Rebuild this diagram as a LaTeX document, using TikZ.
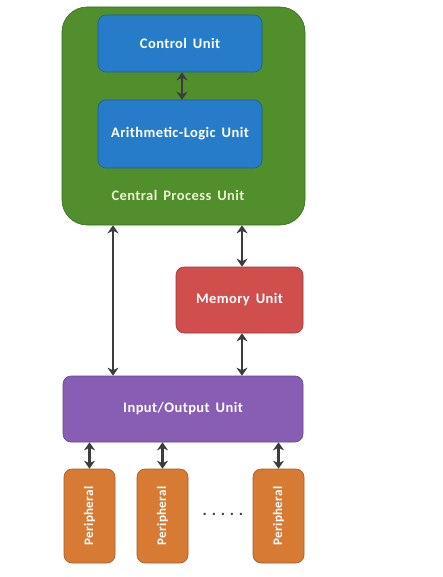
\documentclass[tikz,border=0pt]{standalone}
\usepackage{fontspec}
\setmainfont{Carlito}
\usetikzlibrary{arrows.meta}
\definecolor{cpugreen}{RGB}{80,143,44}
\definecolor{unitblue}{RGB}{38,124,200}
\definecolor{memred}{RGB}{208,78,76}
\definecolor{iopurple}{RGB}{136,94,180}
\definecolor{periorange}{RGB}{214,122,52}
\definecolor{arrowgray}{RGB}{60,60,60}
\definecolor{cream}{RGB}{238,240,210}
\newfontfamily\labelfont[LetterSpace=3,WordSpace=1.6]{Carlito}
\newfontfamily\dotfont[LetterSpace=30]{Carlito}
\tikzset{
  unitbox/.style={rectangle, rounded corners=8pt, draw=#1!75!black, line width=0.6pt, fill=#1,
    text=white, font=\labelfont\bfseries\fontsize{14.5}{16}\selectfont, inner sep=0pt},
  arr/.style={draw=arrowgray, line width=2.2pt, {Stealth[width=11pt,length=8pt,inset=2.5pt]}-{Stealth[width=11pt,length=8pt,inset=2.5pt]}},
  periph/.style={unitbox=periorange, minimum width=51pt, minimum height=94pt,
    font=\labelfont\bfseries\fontsize{13}{15}\selectfont}
}
\begin{document}
\begin{tikzpicture}[x=1pt,y=-1pt]
\useasboundingbox (0,0) rectangle (443,577);
\node[rectangle, rounded corners=25pt, draw=cpugreen!75!black, line width=0.6pt, fill=cpugreen,
      minimum width=243pt, minimum height=218pt, inner sep=0pt] (cpu) at (183.5,116) {};
\node[unitbox=unitblue, minimum width=164pt, minimum height=57pt] (cu) at (180,43.5) {Control Unit};
\node[unitbox=unitblue, minimum width=164pt, minimum height=68pt] (alu) at (180,134) {Arithmetic-Logic Unit};
\node[text=cream, font=\labelfont\bfseries\fontsize{14.5}{16}\selectfont] (cpulabel) at (178,195) {Central Process Unit};
\node[unitbox=memred, minimum width=127pt, minimum height=66pt] (mem) at (239.5,300) {Memory Unit};
\node[unitbox=iopurple, minimum width=240pt, minimum height=66pt] (io) at (183,409) {Input/Output Unit};
\node[periph] (p1) at (89.5,516) {\rotatebox{90}{Peripheral}};
\node[periph] (p2) at (162.5,516) {\rotatebox{90}{Peripheral}};
\node[periph] (p3) at (278.5,516) {\rotatebox{90}{Peripheral}};
\node[text=arrowgray, anchor=base, font=\dotfont\bfseries\fontsize{16}{16}\selectfont] (dots) at (223,515) {.....};
\coordinate (lx) at (113,0);
\coordinate (rx) at (242,0);
\coordinate (cx) at (182,0);
\draw[arr] (cu.south -| cx) -- (alu.north -| cx);
\draw[arr] (cpu.south -| lx) -- (io.north -| lx);
\draw[arr] (cpu.south -| rx) -- (mem.north -| rx);
\draw[arr] (mem.south -| rx) -- (io.north -| rx);
\draw[arr] (io.south -| p1) -- (p1.north);
\draw[arr] (io.south -| p2) -- (p2.north);
\draw[arr] (io.south -| p3) -- (p3.north);
\end{tikzpicture}
\end{document}
